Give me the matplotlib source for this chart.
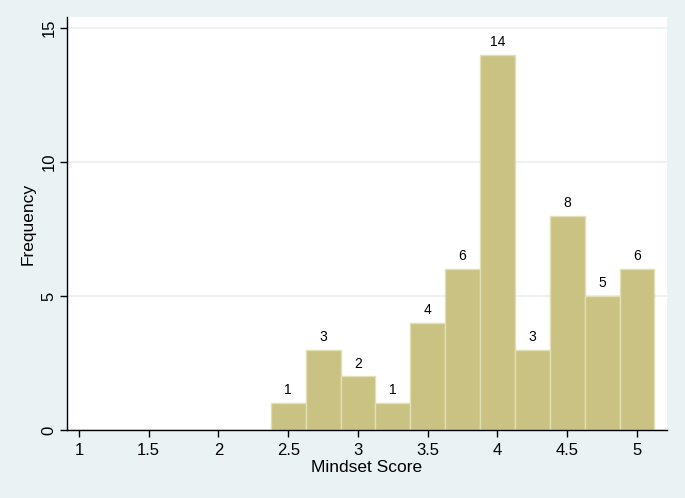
import numpy as np
import matplotlib.pyplot as plt

# histogram bins (width 0.25) and frequencies
bin_left = [2.375, 2.625, 2.875, 3.125, 3.375, 3.625, 3.875, 4.125, 4.375, 4.625, 4.875]
counts = [1, 3, 2, 1, 4, 6, 14, 3, 8, 5, 6]
bin_width = 0.25

x_ticks = [1, 1.5, 2, 2.5, 3, 3.5, 4, 4.5, 5]
x_tick_labels = ["1", "1.5", "2", "2.5", "3", "3.5", "4", "4.5", "5"]
y_ticks = [0, 5, 10, 15]

plt.rcParams["font.family"] = ["Liberation Sans", "DejaVu Sans"]

fig = plt.figure(figsize=(6.85, 4.98), dpi=100)
fig.patch.set_facecolor("#EAF2F3")
ax = fig.add_axes([0.0978, 0.1365, 0.8759, 0.8294])
ax.set_facecolor("white")

bars = ax.bar(bin_left, counts, width=bin_width, align="edge",
              color="#C9C282", edgecolor="#E3DFB4", linewidth=1.0, zorder=2)

for b, c in zip(bars, counts):
    ax.text(b.get_x() + b.get_width() / 2, c + 0.22, str(c),
            ha="center", va="bottom", fontsize=10, color="black")

ax.set_xlim(0.914, 5.215)
ax.set_ylim(0, 15.41)
ax.set_xticks(x_ticks)
ax.set_xticklabels(x_tick_labels)
ax.set_yticks(y_ticks)
ax.set_yticklabels([str(v) for v in y_ticks], rotation=90, va="center")

ax.yaxis.grid(True, color="#EBEFEF", linewidth=1.2, zorder=0)
ax.set_axisbelow(True)

for side in ["top", "right"]:
    ax.spines[side].set_visible(False)
ax.spines["left"].set_linewidth(1.0)
ax.spines["bottom"].set_linewidth(1.0)

ax.tick_params(axis="both", direction="out", length=5, width=1.0,
               labelsize=12, color="black")
ax.tick_params(axis="x", pad=4.5)
ax.tick_params(axis="y", pad=2.5)
ax.set_xlabel("Mindset Score", fontsize=12.5, labelpad=1)
ax.set_ylabel("Frequency", fontsize=12.5, labelpad=4)

plt.savefig("out.png", dpi=100, facecolor=fig.get_facecolor())
